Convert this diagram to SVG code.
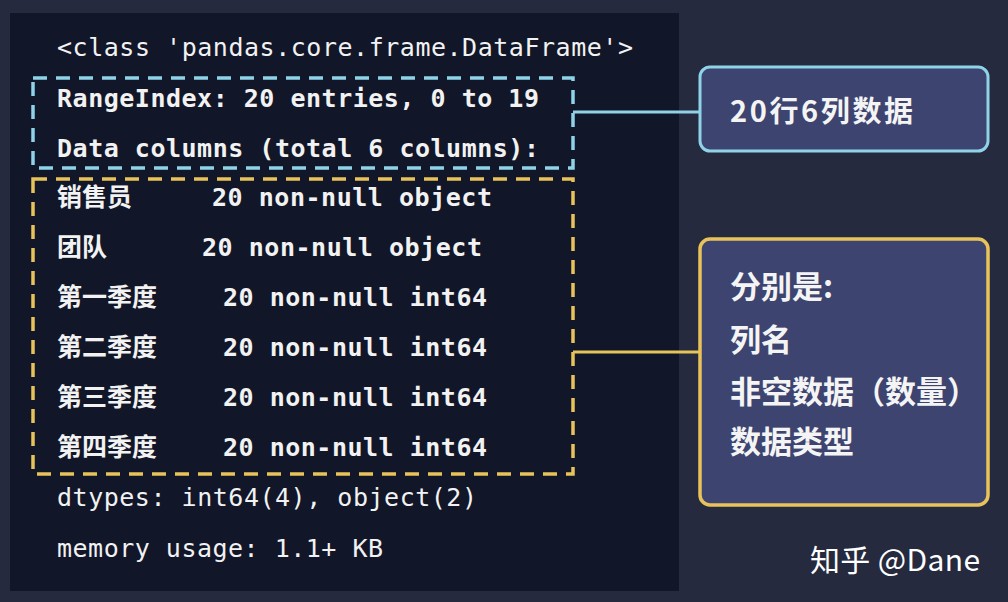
<svg xmlns="http://www.w3.org/2000/svg" width="1008" height="602" viewBox="0 0 1008 602">
<style>
.m{font-family:"DejaVu Sans Mono","Noto Sans CJK SC",monospace;font-size:25px;fill:#f2f2f2}
.b{font-weight:bold}
.c{font-family:"Noto Sans CJK SC",sans-serif;font-size:29px;fill:#f4f4f4;font-weight:bold}
.d{font-size:31px}
</style>
<rect width="1008" height="602" fill="#252a3e"/>
<rect x="10" y="13" width="669" height="578" fill="#111628"/>
<g id="code">
<text class="m" x="57" y="56" textLength="576">&lt;class 'pandas.core.frame.DataFrame'&gt;</text>
<text class="m b" x="57" y="107" textLength="482">RangeIndex: 20 entries, 0 to 19</text>
<text class="m b" x="57" y="157" textLength="482">Data columns (total 6 columns):</text>
<text class="m b" x="57" y="206">销售员</text><text class="m b" x="212" y="206" textLength="280">20 non-null object</text>
<text class="m b" x="57" y="256">团队</text><text class="m b" x="202" y="256" textLength="280">20 non-null object</text>
<text class="m b" x="57" y="306">第一季度</text><text class="m b" x="223" y="306" textLength="264">20 non-null int64</text>
<text class="m b" x="57" y="356">第二季度</text><text class="m b" x="223" y="356" textLength="264">20 non-null int64</text>
<text class="m b" x="57" y="406">第三季度</text><text class="m b" x="223" y="406" textLength="264">20 non-null int64</text>
<text class="m b" x="57" y="456">第四季度</text><text class="m b" x="223" y="456" textLength="264">20 non-null int64</text>
<text class="m" x="57" y="506" textLength="420">dtypes: int64(4), object(2)</text>
<text class="m" x="57" y="557" textLength="326">memory usage: 1.1+ KB</text>
</g>
<g id="blueGroup"><rect x="33" y="78" width="540" height="90" fill="none" stroke="#8fd3e8" stroke-width="3.5" stroke-dasharray="14,9"/></g>
<g id="orangeGroup"><rect x="33" y="179" width="540" height="295" fill="none" stroke="#e8c25a" stroke-width="3.5" stroke-dasharray="14,9"/></g>
<g id="connectors">
<line x1="573" y1="112" x2="700" y2="112" stroke="#8fd3e8" stroke-width="3"/>
<line x1="573" y1="352" x2="700" y2="352" stroke="#e8c25a" stroke-width="3"/>
</g>
<g id="box1"><rect x="700" y="67" width="288" height="84" rx="10" fill="#3d4470" stroke="#8fd3e8" stroke-width="3"/>
<text class="c" x="730" y="122" textLength="183">20行6列数据</text></g>
<g id="box2"><rect x="700" y="239" width="288" height="266" rx="10" fill="#3d4470" stroke="#e8c25a" stroke-width="3.5"/>
<text class="c d" x="730" y="298">分别是:</text>
<text class="c d" x="730" y="351">列名</text>
<text class="c d" x="730" y="403">非空数据（数量）</text>
<text class="c d" x="730" y="453">数据类型</text></g>
<text x="810" y="571" font-family="Noto Sans CJK SC,sans-serif" font-size="30" fill="#ffffff" textLength="170">知乎 @Dane</text>
</svg>
